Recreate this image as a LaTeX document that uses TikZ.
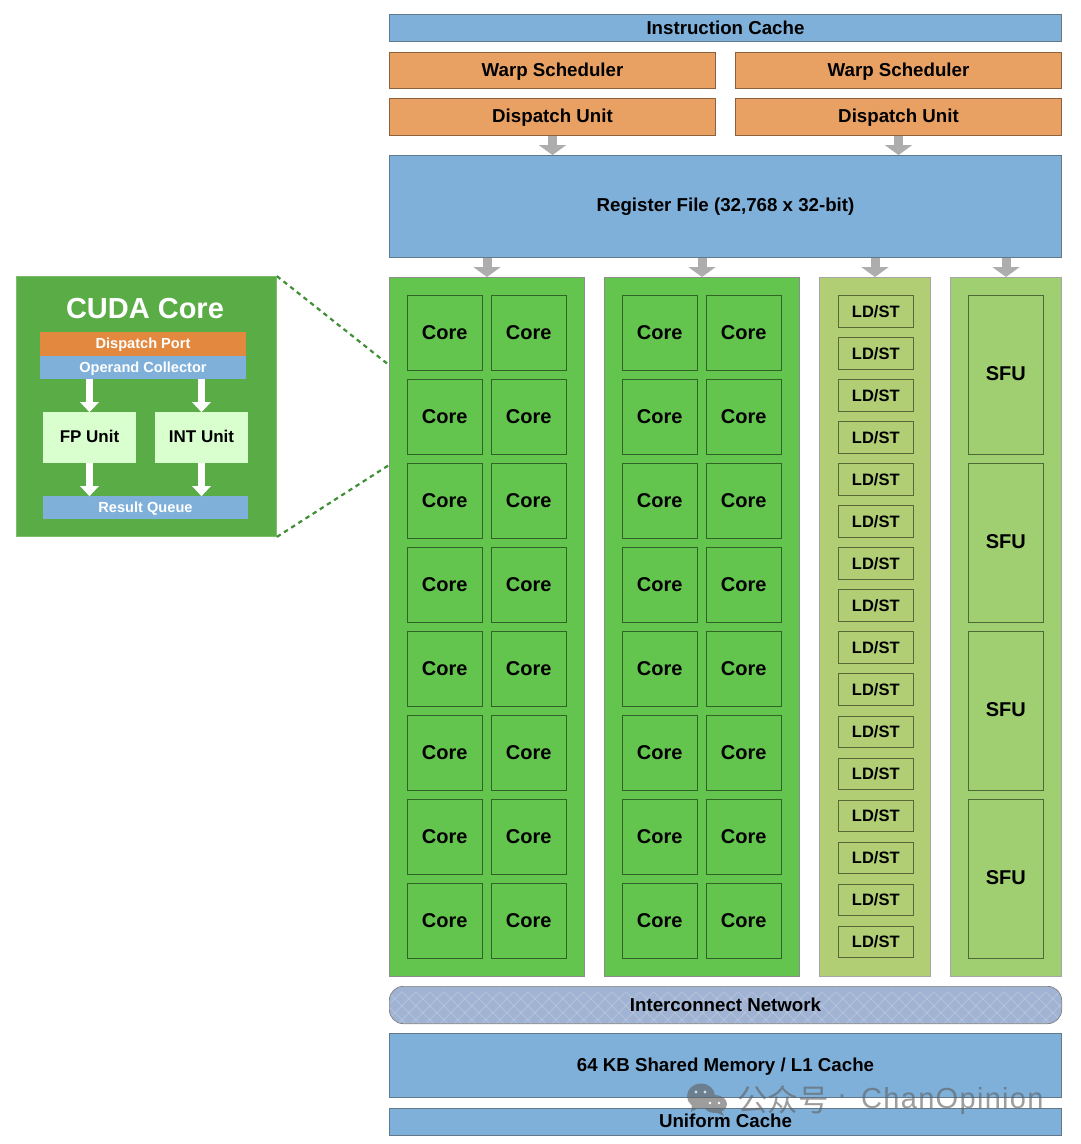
\documentclass[tikz,border=0pt]{standalone}
\usepackage{fontspec}
\setmainfont{Liberation Sans}
\newfontfamily\cjkwm{Noto Sans CJK SC}
\usetikzlibrary{arrows.meta}
\definecolor{cblue}{HTML}{7FB0DA}
\definecolor{corange}{HTML}{E9A163}
\definecolor{cgreen}{HTML}{63C44E}
\definecolor{cldst}{HTML}{B2CE75}
\definecolor{csfu}{HTML}{A0CF72}
\definecolor{cleft}{HTML}{5AAD46}
\definecolor{cport}{HTML}{E3893F}
\definecolor{cunit}{HTML}{D9FFCF}
\definecolor{cnet}{HTML}{A0B3D3}
\definecolor{cdash}{HTML}{3F8F35}
% name, style, x1, y1, x2, y2, text
\newcommand{\bx}[7]{%
  \pgfmathsetmacro{\bxw}{#5-#3-.8}\pgfmathsetmacro{\bxh}{#6-#4-.8}%
  \pgfmathsetmacro{\bxcx}{(#3+#5)/2}\pgfmathsetmacro{\bxcy}{(#4+#6)/2}%
  \node[#2,minimum width=\bxw pt,minimum height=\bxh pt] (#1) at (\bxcx,\bxcy) {#7};}
% moves the ink of a label without changing the size of its box
\newcommand{\nudge}[2]{\raisebox{#1}[\height][\depth]{#2}}
\tikzset{
  base/.style={rectangle,inner sep=0pt,font=\bfseries\fontsize{18.7}{20}\selectfont,text=black},
  bluebox/.style={base,fill=cblue,draw=cblue!55!black!85,line width=.7pt},
  orangebox/.style={base,fill=corange,draw=corange!60!black,line width=.7pt},
  corecol/.style={base,fill=cgreen,draw=black!45,line width=.8pt},
  corebox/.style={base,fill=cgreen,draw=cgreen!50!black,line width=.8pt,font=\bfseries\fontsize{20}{22}\selectfont},
  ldcol/.style={base,fill=cldst,draw=black!35,line width=.8pt},
  ldbox/.style={base,fill=cldst,draw=cldst!50!black,line width=.8pt,font=\bfseries\fontsize{16.5}{18}\selectfont},
  sfucol/.style={base,fill=csfu,draw=black!35,line width=.8pt},
  sfubox/.style={base,fill=csfu,draw=csfu!50!black,line width=.8pt,font=\bfseries\fontsize{20}{22}\selectfont},
  panel/.style={base,fill=cleft,draw=cleft!80!white,line width=.6pt},
  paneltitle/.style={inner sep=0pt,text=white,font=\bfseries\fontsize{29}{31}\selectfont},
  innerbar/.style={base,text=white,font=\bfseries\fontsize{14.6}{16}\selectfont},
  unitbox/.style={base,fill=cunit,font=\bfseries\fontsize{17}{19}\selectfont},
  grayarrow/.style={draw=black!32,line width=9pt,-{Triangle[width=27pt,length=10pt]}},
  whitearrow/.style={draw=white,line width=7.5pt,-{Triangle[width=18pt,length=10pt]}},
  zoomline/.style={draw=cdash,line width=2.2pt,dash pattern=on 4.5pt off 4pt},
  netbox/.style={base,rounded corners=14pt,fill=cnet,draw=black!50,line width=.7pt},
}
\begin{document}
\begin{tikzpicture}[x=1pt,y=-1pt]
\useasboundingbox (0,0) rectangle (1080,1144);
% top
\bx{ic}{bluebox}{389}{14}{1062}{42}{Instruction Cache}
\bx{ws1}{orangebox}{389}{52}{716}{89}{\nudge{-1pt}{Warp Scheduler}}
\bx{ws2}{orangebox}{735}{52}{1062}{89}{\nudge{-1pt}{Warp Scheduler}}
\bx{du1}{orangebox}{389}{98}{716}{136}{\nudge{-1pt}{Dispatch Unit}}
\bx{du2}{orangebox}{735}{98}{1062}{136}{\nudge{-1pt}{Dispatch Unit}}
\bx{rf}{bluebox}{389}{155}{1062}{258}{Register File (32,768 x 32-bit)}
% columns
\bx{col1}{corecol}{389}{277}{585}{977}{}
\bx{col2}{corecol}{604}{277}{800}{977}{}
\bx{col3}{ldcol}{819}{277}{931}{977}{}
\bx{col4}{sfucol}{950}{277}{1062}{977}{}
\foreach \r in {0,...,7}{
  \pgfmathsetmacro{\ya}{295+84.05*\r}
  \pgfmathsetmacro{\yb}{\ya+75.5}
  \bx{a\r}{corebox}{407}{\ya}{482.5}{\yb}{Core}
  \bx{b\r}{corebox}{491}{\ya}{566.5}{\yb}{Core}
  \bx{c\r}{corebox}{622}{\ya}{697.5}{\yb}{Core}
  \bx{d\r}{corebox}{706}{\ya}{781.5}{\yb}{Core}
}
\foreach \r in {0,...,15}{
  \pgfmathsetmacro{\ya}{295+42.05*\r}
  \pgfmathsetmacro{\yb}{\ya+32.5}
  \bx{l\r}{ldbox}{838}{\ya}{913.5}{\yb}{LD/ST}
}
\foreach \r in {0,...,3}{
  \pgfmathsetmacro{\ya}{295+168.1*\r}
  \pgfmathsetmacro{\yb}{\ya+159.5}
  \bx{s\r}{sfubox}{968}{\ya}{1043.5}{\yb}{\nudge{1pt}{SFU}}
}
% bottom
\node[netbox,minimum width=672.3pt,minimum height=37.3pt,
  path picture={
    \foreach \k in {-8,...,60}{
      \draw[white,opacity=.17,line width=1.1pt] (-340+\k*14,-20) -- ++(42,42);
      \draw[white,opacity=.17,line width=1.1pt] (-340+\k*14,-20) -- ++(-42,42);
    }
  }] (net) at (725.5,1005) {Interconnect Network};
\bx{sm}{bluebox}{389}{1033}{1062}{1098}{\nudge{-1pt}{64 KB Shared Memory / L1 Cache}}
\bx{uc}{bluebox}{389}{1108}{1062}{1136}{\nudge{1pt}{Uniform Cache}}
% gray arrows
\draw[grayarrow] (du1.south) -- (du1.south |- rf.north);
\draw[grayarrow] (du2.south) -- (du2.south |- rf.north);
\foreach \n in {col1,col2,col3,col4}{
  \draw[grayarrow] (rf.south -| \n.north) -- (\n.north);
}
% left panel
\bx{pn}{panel}{16}{276}{277}{537}{}
\node[paneltitle] (pt) at (145,308.5) {CUDA Core};
\bx{dp}{innerbar,fill=cport}{40}{332}{246}{356}{\nudge{-1pt}{Dispatch Port}}
\bx{oc}{innerbar,fill=cblue}{40}{356}{246}{379}{\nudge{-1pt}{Operand Collector}}
\bx{fp}{unitbox}{43}{412}{136}{463}{\nudge{1pt}{FP Unit}}
\bx{iu}{unitbox}{155}{412}{248}{463}{\nudge{1pt}{INT Unit}}
\bx{rq}{innerbar,fill=cblue}{43}{496}{248}{519}{\nudge{-1pt}{Result Queue}}
\draw[whitearrow] (fp.north |- oc.south) -- (fp.north);
\draw[whitearrow] (iu.north |- oc.south) -- (iu.north);
\draw[whitearrow] (fp.south) -- (fp.south |- rq.north);
\draw[whitearrow] (iu.south) -- (iu.south |- rq.north);
% zoom lines
\coordinate (zt) at (col1.west |- 0,365);
\coordinate (zb) at (col1.west |- 0,465);
\draw[zoomline] (pn.north east) -- (zt);
\draw[zoomline] (pn.south east) -- (zb);
% watermark
\begin{scope}[transparency group,opacity=.62]
  \fill[black!62] (701,1096) ellipse (14pt and 12.5pt);
  \fill[black!62] (692,1104) -- (691,1112) -- (700,1107) -- cycle;
  \fill[black!62] (715,1104) ellipse (12pt and 9pt);
  \fill[black!62] (721,1110) -- (724,1116) -- (715,1112) -- cycle;
  \fill[white] (710,1103) circle (1.4pt) (719,1103) circle (1.4pt);
  \fill[white] (696,1092) circle (1.6pt) (705,1092) circle (1.6pt);
  \node[inner sep=0pt,anchor=west,text=black!62,font=\cjkwm\fontsize{30.5}{31}\selectfont] (wm1) at (737,1100) {公众号};
  \node[inner sep=0pt,text=black!62,font=\fontsize{30}{32}\selectfont] (wm2) at (842,1100) {·};
  \node[inner sep=0pt,anchor=west,text=black!62,font=\fontsize{29}{30}\selectfont] (wm3) at (861,1101) {\addfontfeature{LetterSpace=4.5}ChanOpinion};
\end{scope}
\end{tikzpicture}
\end{document}
